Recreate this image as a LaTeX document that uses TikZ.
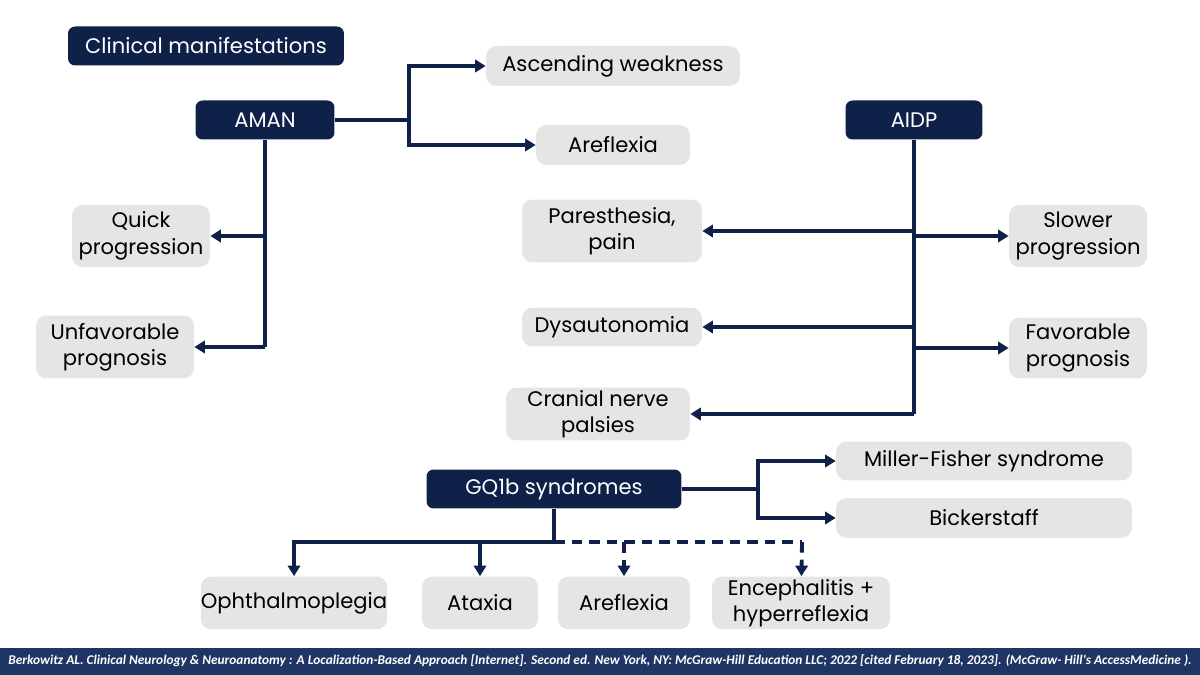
\documentclass[tikz,border=0pt]{standalone}
\usepackage{fontspec}
\setmainfont{Poppins}
\newfontfamily\footfont{Carlito}
\usetikzlibrary{arrows.meta}
\definecolor{navy}{HTML}{0F2149}
\definecolor{boxgray}{HTML}{E5E5E5}
\definecolor{footblue}{HTML}{1F3563}
\begin{document}
\begin{tikzpicture}[x=0.02cm,y=-0.02cm,>={Triangle[length=6pt,width=7pt]},
  head/.style={fill=navy,text=white,rounded corners=4pt,minimum height=0.78cm,font=\fontsize{12}{14}\selectfont,inner sep=0pt},
  item/.style={fill=boxgray,text=black,rounded corners=6pt,font=\fontsize{12}{15}\selectfont,align=center,inner sep=0pt},
  link/.style={navy,line width=2.2pt},
  dlink/.style={link,dash pattern=on 6pt off 4pt}]
\useasboundingbox (0,0) rectangle (1200,675);

\node[head,minimum width=5.52cm] (clin) at (206,46) {Clinical manifestations};
\node[head,minimum width=2.78cm] (aman) at (265,120) {AMAN};
\node[head,minimum width=2.74cm] (aidp) at (914,120) {AIDP};
\node[head,minimum width=5.1cm] (gq) at (554,489) {GQ1b syndromes};

\node[item,minimum width=5.08cm,minimum height=0.8cm] (asc) at (613,66) {Ascending weakness};
\node[item,minimum width=3.08cm,minimum height=0.8cm] (are1) at (613,145) {Areflexia};
\node[item,minimum width=2.76cm,minimum height=1.24cm] (quick) at (141,236) {Quick\\progression};
\node[item,minimum width=3.16cm,minimum height=1.26cm] (unfav) at (115,347) {Unfavorable\\prognosis};
\node[item,minimum width=3.6cm,minimum height=1.26cm] (pares) at (612,231) {Paresthesia,\\pain};
\node[item,minimum width=2.76cm,minimum height=1.24cm] (slow) at (1078,236) {Slower\\progression};
\node[item,minimum width=3.6cm,minimum height=0.78cm] (dys) at (612,327) {Dysautonomia};
\node[item,minimum width=2.76cm,minimum height=1.22cm] (fav) at (1078,348) {Favorable\\prognosis};
\node[item,minimum width=3.68cm,minimum height=1.06cm] (cran) at (598,414) {Cranial nerve\\palsies};
\node[item,minimum width=5.92cm,minimum height=0.78cm] (mfs) at (984,461) {Miller-Fisher syndrome};
\node[item,minimum width=5.92cm,minimum height=0.8cm] (bick) at (984,518) {Bickerstaff};
\node[item,minimum width=3.68cm,minimum height=1.06cm] (oph) at (294,603) {Ophthalmoplegia};
\node[item,minimum width=2.32cm,minimum height=1.06cm] (atax) at (480,603) {Ataxia};
\node[item,minimum width=2.64cm,minimum height=1.06cm] (are2) at (624,603) {Areflexia};
\node[item,minimum width=3.56cm,minimum height=1.06cm] (ence) at (801,603) {Encephalitis +\\hyperreflexia};

\node[fill=footblue,text=white,minimum width=24cm,minimum height=0.54cm,inner sep=0pt] (foot) at (600,661) {};
\node[text=white,anchor=west,font=\footfont\bfseries\itshape\fontsize{7.6}{9}\selectfont,inner sep=0pt] (ref) at (8,661)
 {Berkowitz AL. Clinical Neurology \& Neuroanatomy : A Localization-Based Approach [Internet]. Second ed. New York, NY: McGraw-Hill Education LLC; 2022 [cited February 18, 2023]. (McGraw- Hill's AccessMedicine ).};

% AMAN
\coordinate (amanj) at (409,120);
\draw[link] (aman) -- (amanj);
\draw[link,->] (amanj) |- (asc);
\draw[link,->] (amanj) |- (are1);
\coordinate (amanb) at (265,347);
\draw[link] (aman) -- (amanb);
\draw[link,->] (265,236) -- (quick);
\draw[link,->] (amanb) -- (unfav);

% AIDP
\coordinate (aidpb) at (914,414);
\draw[link] (aidp) -- (aidpb);
\draw[link,->] (914,231) -- (pares);
\draw[link,->] (914,236) -- (slow);
\draw[link,->] (914,327) -- (dys);
\draw[link,->] (914,348) -- (fav);
\draw[link,->] (aidpb) -- (cran);

% GQ1b
\coordinate (gqj) at (758,489);
\draw[link] (gq) -- (gqj);
\draw[link,->] (gqj) |- (mfs);
\draw[link,->] (gqj) |- (bick);
\coordinate (gqb) at (554,542);
\draw[link] (gq) -- (gqb);
\draw[link,->] (gqb) -| (oph);
\draw[link,->] (480,542) -- (atax);
\draw[dlink] (gqb) -- (802,542);
\draw[dlink,->] (624,542) -- (are2);
\draw[dlink,->] (802,542) -- (ence);
\end{tikzpicture}
\end{document}
